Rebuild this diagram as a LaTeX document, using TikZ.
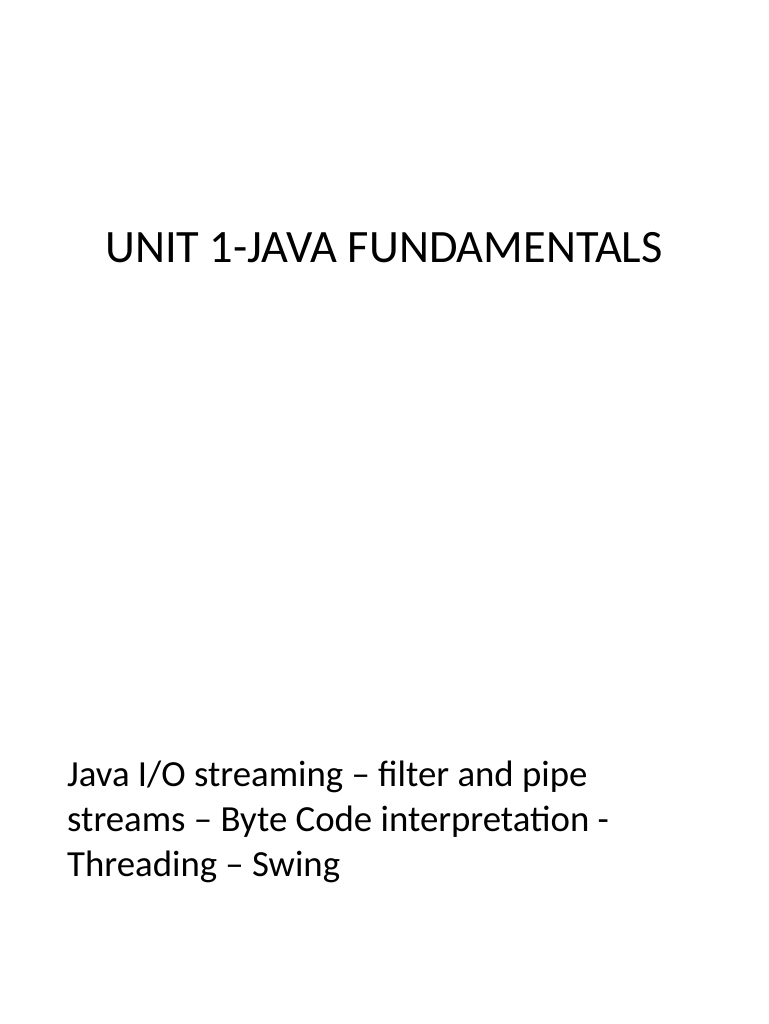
\documentclass[tikz,border=0pt]{standalone}
\usepackage{fontspec}
\setmainfont{Carlito}
\begin{document}
\begin{tikzpicture}[x=1pt,y=-1pt,
  title/.style={font=\fontsize{46.4}{52}\selectfont,anchor=base,inner sep=0pt},
  body/.style={font=\fontsize{36.8}{45.5}\selectfont,anchor=base west,inner sep=0pt,align=left}]
\useasboundingbox[fill=white] (0,0) rectangle (768,1024);
\node[title] (t) at (384,262) {UNIT 1-JAVA FUNDAMENTALS};
\node[body] (l1) at (67,786) {Java I/O streaming – filter and pipe};
\node[body] (l2) at (67,831) {streams – Byte Code interpretation -};
\node[body] (l3) at (67,876) {Threading – Swing};
\end{tikzpicture}
\end{document}
